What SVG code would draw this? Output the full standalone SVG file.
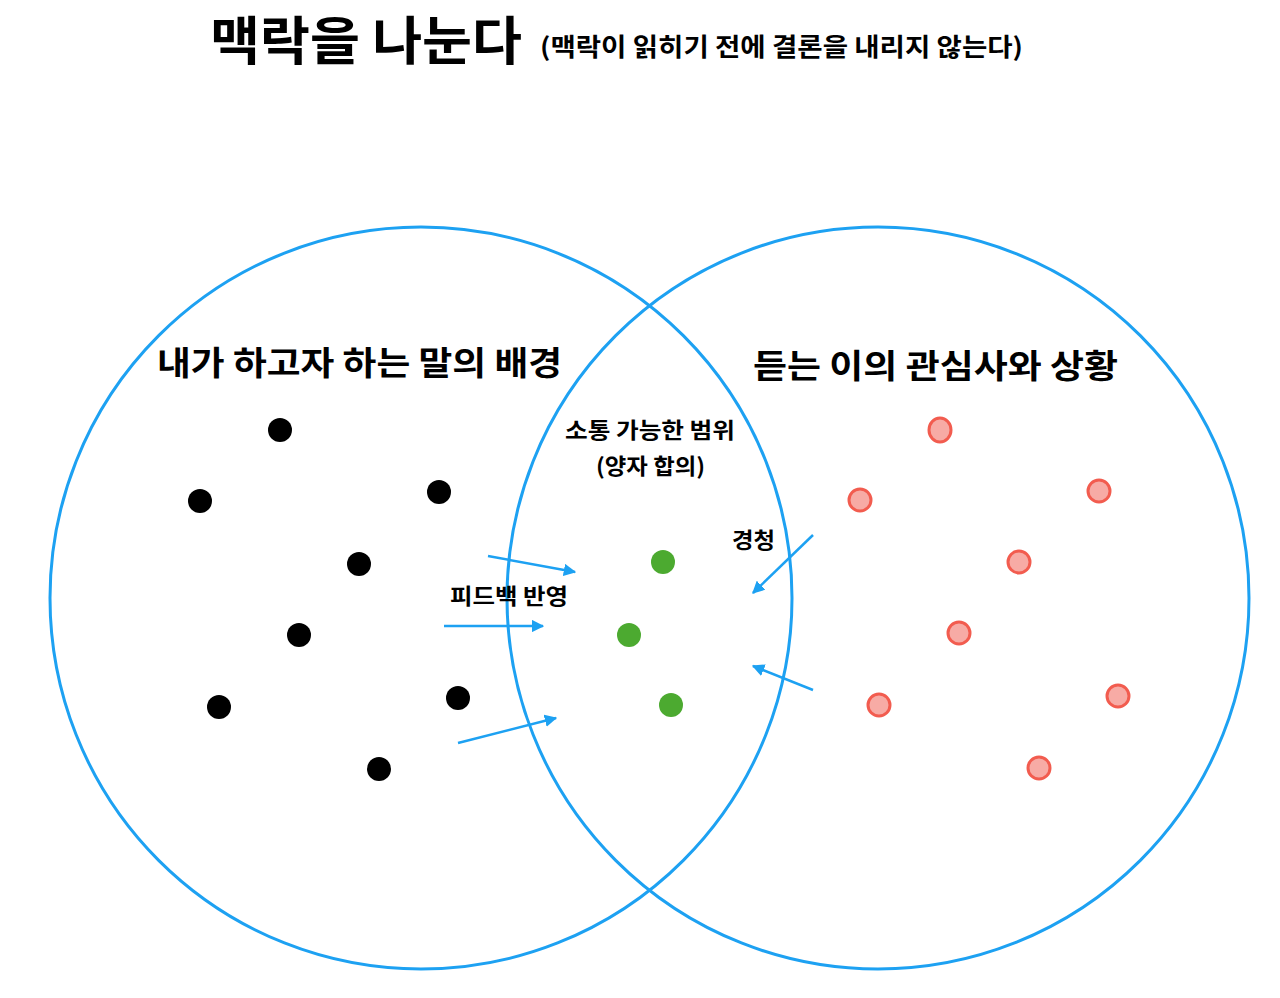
<svg xmlns="http://www.w3.org/2000/svg" width="1280" height="998" viewBox="0 0 1280 998">
<style>
text{font-family:"Noto Sans CJK KR","Noto Sans",sans-serif;fill:#000;font-weight:bold}
.c{fill:none;stroke:#1da1f2;stroke-width:3}
.b{fill:#000}.g{fill:#4caa30}.p{fill:#f7aba5;stroke:#f25c4f;stroke-width:3}
.a{stroke:#1da1f2;stroke-width:2.5;fill:none;marker-end:url(#m)}
</style>
<defs><marker id="m" viewBox="0 0 10 10" refX="9" refY="5" markerWidth="5" markerHeight="5" orient="auto"><path d="M0,0L10,5L0,10z" fill="#1da1f2"/></marker></defs>
<rect width="1280" height="998" fill="#fff"/>
<g id="title"><text x="210" y="60" font-size="52" textLength="312" lengthAdjust="spacingAndGlyphs">맥락을 나눈다</text>
<text x="540" y="56" font-size="25" textLength="483" lengthAdjust="spacingAndGlyphs">(맥락이 읽히기 전에 결론을 내리지 않는다)</text></g>
<g id="left"><circle class="c" cx="421" cy="598" r="371"/><text x="157" y="375" font-size="33" font-weight="600" textLength="405" lengthAdjust="spacingAndGlyphs">내가 하고자 하는 말의 배경</text></g>
<g id="right"><circle class="c" cx="878" cy="598" r="371"/><text x="753" y="378" font-size="33" font-weight="600" textLength="365" lengthAdjust="spacingAndGlyphs">듣는 이의 관심사와 상황</text></g>
<g id="mid"><text x="565" y="438" font-size="22" font-weight="600" textLength="170" lengthAdjust="spacingAndGlyphs">소통 가능한 범위</text><text x="596" y="474" font-size="22" font-weight="600" textLength="109" lengthAdjust="spacingAndGlyphs">(양자 합의)</text></g>
<g id="black"><circle class="b" cx="280" cy="430" r="12"/><circle class="b" cx="200" cy="501" r="12"/><circle class="b" cx="439" cy="492" r="12"/><circle class="b" cx="359" cy="564" r="12"/><circle class="b" cx="299" cy="635" r="12"/><circle class="b" cx="219" cy="707" r="12"/><circle class="b" cx="458" cy="698" r="12"/><circle class="b" cx="379" cy="769" r="12"/></g>
<g id="green"><circle class="g" cx="663" cy="562" r="12"/><circle class="g" cx="629" cy="635" r="12"/><circle class="g" cx="671" cy="705" r="12"/></g>
<g id="pink"><ellipse class="p" cx="940" cy="430" rx="11" ry="12"/><circle class="p" cx="860" cy="500" r="11"/><circle class="p" cx="1099" cy="491" r="11"/><circle class="p" cx="1019" cy="562" r="11"/><circle class="p" cx="959" cy="633" r="11"/><circle class="p" cx="879" cy="705" r="11"/><circle class="p" cx="1118" cy="696" r="11"/><circle class="p" cx="1039" cy="768" r="11"/></g>
<g id="connectors"><path class="a" d="M488,556L575,572"/><path class="a" d="M444,626L543,626"/><path class="a" d="M458,743L556,718"/><path class="a" d="M813,535L753,593"/><path class="a" d="M813,690L753,666"/>
<text x="450" y="604" font-size="22" font-weight="600" textLength="118" lengthAdjust="spacingAndGlyphs">피드백 반영</text><text x="732" y="548" font-size="22" font-weight="600" textLength="43" lengthAdjust="spacingAndGlyphs">경청</text></g>
</svg>
